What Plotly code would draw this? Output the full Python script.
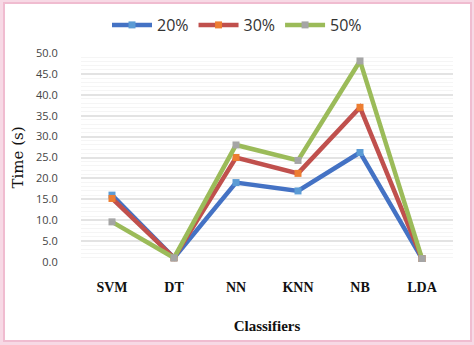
import plotly.graph_objects as go

classifiers = ["SVM", "DT", "NN", "KNN", "NB", "LDA"]
time_20 = [16.0, 1.0, 19.0, 17.0, 26.2, 0.8]
time_30 = [15.2, 1.0, 25.0, 21.2, 37.0, 0.8]
time_50 = [9.6, 1.0, 28.0, 24.3, 48.1, 0.8]
y_ticks = [0, 5, 10, 15, 20, 25, 30, 35, 40, 45, 50]

series = [
    ("20%", time_20, "#4472c4", "#5b9bd5"),
    ("30%", time_30, "#c0504d", "#ed7d31"),
    ("50%", time_50, "#9bbb59", "#a5a5a5"),
]

fig = go.Figure()
for name, vals, line_col, marker_col in series:
    fig.add_trace(go.Scatter(
        x=list(range(len(classifiers))), y=vals, name=name, mode="lines+markers",
        line=dict(color=line_col, width=4.5),
        marker=dict(symbol="square", size=7, color=marker_col),
    ))

fig.update_layout(
    width=474, height=345,
    margin=dict(l=81, r=21, t=53, b=83, autoexpand=False),
    paper_bgcolor="#f7d9e5",
    plot_bgcolor="white",
    showlegend=True,
    legend=dict(orientation="h", x=(237 - 81) / 372, xanchor="center", y=1 + 28 / 209,
                yanchor="middle",
                font=dict(family="Open Sans, sans-serif", size=16, color="#333"),
                bgcolor="rgba(0,0,0,0)", itemwidth=40),
    shapes=[dict(type="rect", xref="paper", yref="paper", layer="below",
                 x0=-77 / 372, x1=1 + 18 / 372, y0=-79 / 209, y1=1 + 50 / 209,
                 fillcolor="white", line=dict(color="#f0bcd0", width=2))],
)

fig.update_xaxes(
    range=[-0.5, 5.5], tickmode="array", tickvals=list(range(len(classifiers))),
    ticktext=classifiers, showgrid=False, zeroline=False, showline=False,
    ticks="outside", ticklen=12, tickcolor="rgba(0,0,0,0)",
    tickfont=dict(family="Liberation Serif, serif", size=14, color="#111", weight="bold"),
    title=dict(text="Classifiers", standoff=26,
               font=dict(family="Liberation Serif, serif", size=15, color="#111", weight="bold")),
)
fig.update_yaxes(
    range=[0, 50], tickmode="array", tickvals=y_ticks,
    ticktext=[f"{v:.1f}" for v in y_ticks],
    showgrid=True, gridcolor="#e3e3e3", gridwidth=1.5, zeroline=False, showline=False,
    minor=dict(dtick=1, showgrid=True, gridcolor="#f5f5f5", gridwidth=1),
    ticks="outside", ticklen=20, tickcolor="rgba(0,0,0,0)",
    tickfont=dict(family="Open Sans, sans-serif", size=11, color="#444"),
    title=dict(text="Time (s)", standoff=8,
               font=dict(family="DejaVu Serif, serif", size=15, color="#111")),
)

fig.write_html("out.html")
